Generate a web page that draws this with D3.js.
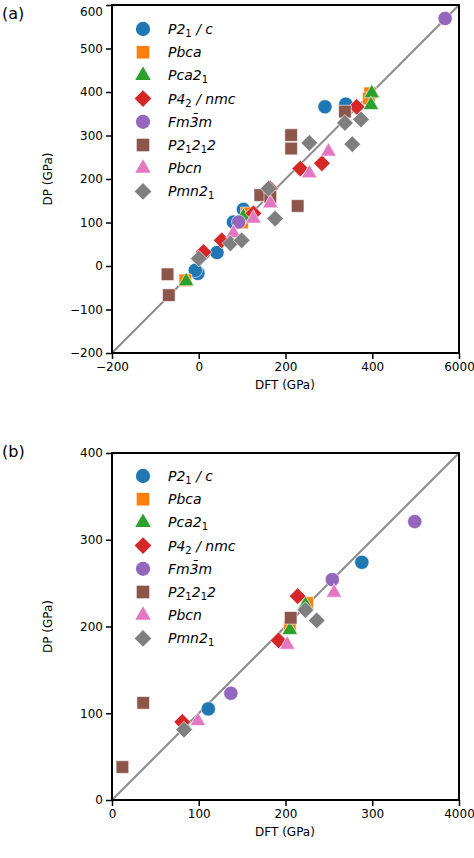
<!DOCTYPE html>
<html><head><meta charset="utf-8">
<script src="https://cdn.jsdelivr.net/npm/d3@7"></script>
<style>body{margin:0;background:#fff}text{font-family:"DejaVu Sans",sans-serif}</style>
</head><body>
<svg id="c" width="474" height="858"></svg>
<script>
// phase names: [main parts with subscripts]
var phases = ["P21/c","Pbca","Pca21","P42/nmc","Fm3m","P21212","Pbcn","Pmn21"];
var phaseLabels = [
  [["P2",""],["1","sub"],[" / c",""]],
  [["Pbca",""]],
  [["Pca2",""],["1","sub"]],
  [["P4",""],["2","sub"],[" / nmc",""]],
  [["Fm3\u0304m",""]],
  [["P2",""],["1","sub"],["2",""],["1","sub"],["2",""]],
  [["Pbcn",""]],
  [["Pmn2",""],["1","sub"]]
];
var colors = ["#1f77b4","#ff7f0e","#2ca02c","#d62728","#9467bd","#8c564b","#e377c2","#7f7f7f"];
var shapes = ["circle","square","triangle","diamond","circle","square","triangle","diamond"];

// panel (a): [DFT, DP] per phase
var dataA = [
  [[291,366],[339,372],[103,130],[80,101],[42,31],[-2,-17],[-8,-10]],
  [[395,397],[-31,-33],[100,100],[111,121],[392,385]],
  [[399,397],[397,370],[-29,-35],[103,113]],
  [[364,366],[284,236],[234,224],[165,178],[53,59],[11,32],[126,121]],
  [[568,569],[92,101]],
  [[213,301],[213,270],[228,138],[142,163],[-72,-19],[-69,-67],[337,355],[165,159]],
  [[299,263],[255,213],[165,144],[126,109],[80,75]],
  [[255,283],[354,280],[337,329],[374,337],[161,178],[176,109],[73,52],[99,59],[0,17]]
];
// panel (b)
var dataB = [
  [[288,274],[111,105]],
  [[225,227],[205,200]],
  [[205,196],[223,225],[84,85]],
  [[214,235],[192,184],[81,90]],
  [[349,321],[254,254],[137,123]],
  [[36,112],[12,38],[206,210]],
  [[256,239],[202,179],[99,91]],
  [[223,219],[236,207],[83,81]]
];
var ticksA = [-200,-100,0,100,200,300,400,500,600];
var xTicksA = [-200,0,200,400,600];
var ticksB = [0,100,200,300,400];

var svg = d3.select("#c");

function symbolPath(shape) {
  if (shape === "circle") return d3.symbol(d3.symbolCircle, 160)();
  if (shape === "square") return d3.symbol(d3.symbolSquare, 160)();
  if (shape === "triangle") return d3.symbol(d3.symbolTriangle, 105)();
  return d3.symbol(d3.symbolSquare, 140)();
}

function panel(opt) {
  var x = d3.scaleLinear().domain(opt.domain).range([112, 459]);
  var y = d3.scaleLinear().domain(opt.domain).range([opt.bottom, opt.top]);
  var g = svg.append("g");

  g.append("line")
    .attr("x1", x(opt.domain[0])).attr("y1", y(opt.domain[0]))
    .attr("x2", x(opt.domain[1])).attr("y2", y(opt.domain[1]))
    .attr("stroke", "#8a8a8a").attr("stroke-width", 2);

  opt.data.forEach(function(pts, i) {
    g.selectAll(null).data(pts).enter().append("path")
      .attr("d", symbolPath(shapes[i]))
      .attr("transform", function(d) {
        return "translate(" + x(d[0]) + "," + y(d[1]) + ")" + (shapes[i] === "diamond" ? " rotate(45)" : "");
      })
      .attr("fill", colors[i]).attr("stroke", "#fff").attr("stroke-width", 0.6);
  });

  var xa = g.append("g").attr("transform", "translate(0," + opt.bottom + ")")
    .call(d3.axisBottom(x).tickValues(opt.xTicks).tickSize(6).tickFormat(function(d, k) {
      return k === opt.xTicks.length - 1 ? d + "0" : (d < 0 ? "\u2212" + (-d) : d);
    }));
  var ya = g.append("g").attr("transform", "translate(112,0)")
    .call(d3.axisLeft(y).tickValues(opt.yTicks).tickSize(6).tickFormat(function(d) {
      return d < 0 ? "\u2212" + (-d) : d;
    }));
  [xa, ya].forEach(function(a) {
    a.select(".domain").remove();
    a.selectAll("line").attr("stroke-width", 1.5);
    a.selectAll("text").attr("font-size", 12).attr("fill", "#000");
  });
  // keep top tick label inside the page
  ya.selectAll("text").filter(function(d) { return y(d) < 8; }).attr("dy", "0.9em");

  g.append("rect").attr("x", 112).attr("y", opt.top).attr("width", 347).attr("height", opt.bottom - opt.top)
    .attr("fill", "none").attr("stroke", "#000").attr("stroke-width", 2);

  g.append("text").attr("x", 285).attr("y", opt.bottom + 36).attr("text-anchor", "middle")
    .attr("font-size", 12).text("DFT (GPa)");
  g.append("text").attr("transform", "translate(" + 52 + "," + ((opt.top + opt.bottom) / 2) + ") rotate(-90)")
    .attr("text-anchor", "middle").attr("font-size", 12).text("DP (GPa)");
  g.append("text").attr("x", 2).attr("y", opt.tagY).attr("font-size", 16).text(opt.tag);

  // legend
  phases.forEach(function(p, i) {
    var ly = opt.legendTop + i * 23.2;
    g.append("path").attr("d", symbolPath(shapes[i]))
      .attr("transform", "translate(143," + ly + ")" + (shapes[i] === "diamond" ? " rotate(45)" : ""))
      .attr("fill", colors[i]);
    var t = g.append("text").attr("x", 168).attr("y", ly + 5).attr("font-size", 14).attr("font-style", "italic");
    phaseLabels[i].forEach(function(part) {
      var ts = t.append("tspan").text(part[0]);
      if (part[1] === "sub") ts.attr("baseline-shift", "-25%").attr("font-size", 10).attr("font-style", "normal");
    });
  });
}

panel({domain: [-200, 600], top: 5, bottom: 353, data: dataA, xTicks: xTicksA, yTicks: ticksA, tag: "(a)", tagY: 19, legendTop: 29});
panel({domain: [0, 400], top: 453, bottom: 800, data: dataB, xTicks: ticksB, yTicks: ticksB, tag: "(b)", tagY: 457, legendTop: 476});
</script>
</body></html>
